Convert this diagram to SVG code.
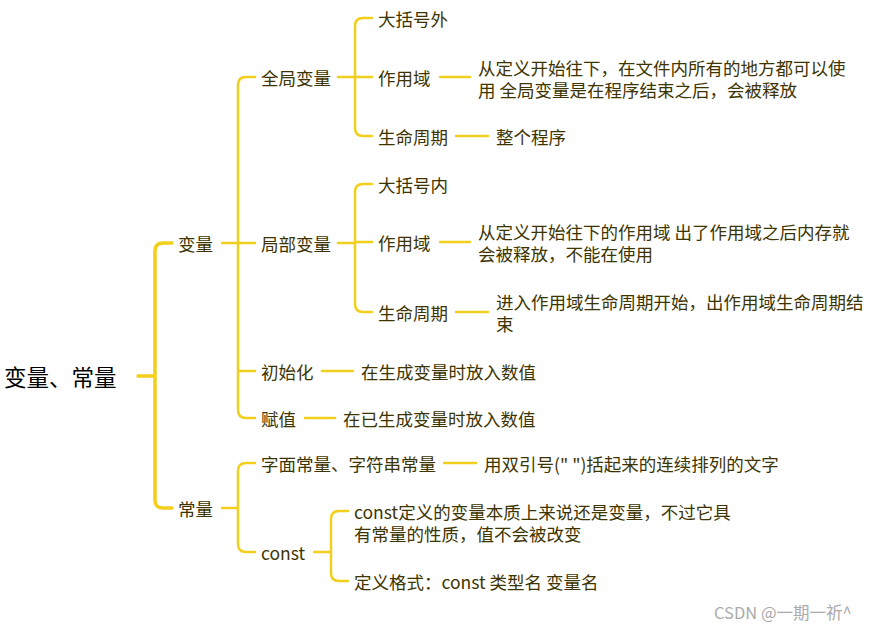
<svg xmlns="http://www.w3.org/2000/svg" width="886" height="633" viewBox="0 0 886 633">
<style>
text{font-family:"Noto Sans CJK SC","Liberation Sans",sans-serif;font-size:17.5px;fill:#3d3400;dominant-baseline:central}
.root{font-size:22.5px;fill:#000}
.wm{font-size:16.5px;fill:#aaa}
#connectors path{fill:none;stroke:#f2cf1d;stroke-width:2.5;stroke-linecap:round}
#connectors .thick{stroke-width:3.5}
</style>
<rect width="886" height="633" fill="#fff"/>
<g id="connectors">
<path class="thick" d="M138 376H155M172 243H163Q155 243 155 251V500Q155 508 163 508H172"/>
<path d="M222 243H238M255 77H246Q238 77 238 85V410Q238 418 246 418H255M238 243H255M238 371H255"/>
<path d="M338 77H355M372 18H363Q355 18 355 26V128Q355 136 363 136H372M355 77H372"/>
<path d="M440 77H470M456 136H488"/>
<path d="M338 243H355M372 184H363Q355 184 355 192V304Q355 312 363 312H372M355 242H372"/>
<path d="M440 242H470M456 312H488"/>
<path d="M322 371H353M305 418H335"/>
<path d="M222 508H238M255 463H246Q238 463 238 471V544Q238 552 246 552H255"/>
<path d="M444 463H476"/>
<path d="M314 552H331M348 511H339Q331 511 331 519V573Q331 581 339 581H348"/>
</g>
<g id="root"><text class="root" x="4" y="376">变量、常量</text></g>
<g id="n-var"><text x="178" y="243">变量</text></g>
<g id="n-global"><text x="261" y="77">全局变量</text></g>
<g id="n-g1"><text x="378" y="18">大括号外</text></g>
<g id="n-g2"><text x="378" y="77">作用域</text></g>
<g id="n-g2a"><text x="478" y="67">从定义开始往下，在文件内所有的地方都可以使</text><text x="478" y="89">用 全局变量是在程序结束之后，会被释放</text></g>
<g id="n-g3"><text x="378" y="136">生命周期</text></g>
<g id="n-g3a"><text x="496" y="136">整个程序</text></g>
<g id="n-local"><text x="261" y="243">局部变量</text></g>
<g id="n-l1"><text x="378" y="184">大括号内</text></g>
<g id="n-l2"><text x="378" y="242">作用域</text></g>
<g id="n-l2a"><text x="478" y="231">从定义开始往下的作用域 出了作用域之后内存就</text><text x="478" y="253">会被释放，不能在使用</text></g>
<g id="n-l3"><text x="378" y="312">生命周期</text></g>
<g id="n-l3a"><text x="496" y="301">进入作用域生命周期开始，出作用域生命周期结</text><text x="496" y="323">束</text></g>
<g id="n-init"><text x="261" y="371">初始化</text></g>
<g id="n-inita"><text x="361" y="371">在生成变量时放入数值</text></g>
<g id="n-assign"><text x="261" y="418">赋值</text></g>
<g id="n-assigna"><text x="343" y="418">在已生成变量时放入数值</text></g>
<g id="n-const"><text x="178" y="508">常量</text></g>
<g id="n-lit"><text x="261" y="463">字面常量、字符串常量</text></g>
<g id="n-lita"><text x="484" y="463">用双引号(" ")括起来的连续排列的文字</text></g>
<g id="n-c"><text x="261" y="552">const</text></g>
<g id="n-c1"><text x="354" y="511">const定义的变量本质上来说还是变量，不过它具</text><text x="354" y="533">有常量的性质，值不会被改变</text></g>
<g id="n-c2"><text x="354" y="581">定义格式：const 类型名 变量名</text></g>
<text class="wm" x="714" y="612">CSDN @一期一祈^</text>
</svg>
